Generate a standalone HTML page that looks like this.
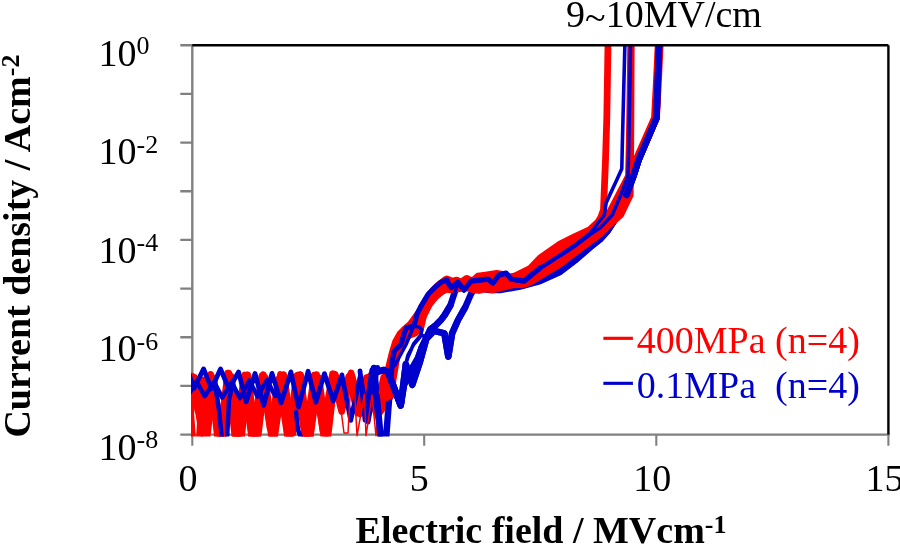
<!DOCTYPE html>
<html><head><meta charset="utf-8">
<style>
html,body{margin:0;padding:0;background:#fff;}
body{width:900px;height:544px;overflow:hidden;position:relative;}
svg{position:absolute;left:0;top:0;}
.t{font-family:"Liberation Serif","Noto Serif CJK SC",serif;}
</style></head><body>
<svg width="900" height="544" viewBox="0 0 900 544">

<g id="axes" stroke="#808080" stroke-width="2.4" fill="none">
<line x1="192.3" y1="44" x2="192.3" y2="435.8"/>
<line x1="191.1" y1="434.6" x2="889.6" y2="434.6"/>
<path d="M180.3 45.2H192.3M180.3 93.9H192.3M180.3 142.6H192.3M180.3 191.2H192.3M180.3 239.9H192.3M180.3 288.6H192.3M180.3 337.3H192.3M180.3 385.9H192.3M180.3 434.6H192.3"/>
<path d="M192.3 434.6V445.8M424.2 434.6V445.8M656.3 434.6V445.8M888.4 434.6V445.8" stroke-width="2.1"/>
</g>
<g id="curves"><clipPath id="pc"><rect x="191" y="44" width="698" height="392.4"/></clipPath>
<g clip-path="url(#pc)">
<polyline points="174.6,377.1 183.6,447.1 192.1,376.2 201.3,428.1 210.7,374.4 218.9,450.0 227.7,373.2 236.1,437.6 243.9,377.4 251.8,438.3 262.0,375.9 270.1,428.2 279.1,378.8 288.6,444.1 296.2,376.4 305.1,438.0 314.3,375.2 322.9,430.3 332.6,374.0 341.7,411.5 348.7,376.7 357.6,413.0 366.4,377.6 375.9,412.0 383.8,377.1 382.0,392.0" fill="none" stroke="#ff0000" stroke-width="6.8" stroke-linejoin="round" stroke-linecap="round"/>
<polyline points="177.2,373.8 185.0,437.7 194.5,377.8 202.3,429.6 212.0,377.1 221.5,448.3 228.0,375.5 236.1,446.2 245.0,375.0 253.4,448.6 263.3,374.7 271.6,432.2 280.5,374.5 288.8,433.3 297.7,375.2 306.6,444.3 316.0,378.4 324.6,442.2 332.0,378.0 340.1,401.1 350.4,375.1 358.7,400.4 368.3,377.4 377.3,414.6 386.0,398.0" fill="none" stroke="#ff0000" stroke-width="6.8" stroke-linejoin="round" stroke-linecap="round"/>
<polyline points="178.1,378.7 187.6,441.9 194.4,377.4 202.7,428.1 211.3,377.3 219.8,431.1 228.9,373.2 237.3,446.3 247.4,375.2 256.3,440.4 263.7,375.9 272.9,447.2 281.3,377.9 289.4,437.4 300.0,374.7 308.9,448.6 316.6,374.6 324.5,432.7 333.6,373.9 342.7,399.0 351.1,373.1 360.5,407.7 369.7,377.5 378.1,402.8 389.0,396.0" fill="none" stroke="#ff0000" stroke-width="6.8" stroke-linejoin="round" stroke-linecap="round"/>
<polyline points="178.9,378.0 187.0,434.0 196.3,379.0 205.6,448.9 214.0,378.9 222.0,449.4 231.1,376.0 240.8,444.6 247.8,374.8 256.5,448.5 265.2,377.5 273.5,444.4 283.6,374.6 292.8,433.5 300.6,374.9 308.7,447.0 318.7,377.6 327.5,439.7 335.2,374.4 343.3,402.5 351.9,376.4 360.4,413.7 370.3,375.6 379.6,412.6 392.0,394.0" fill="none" stroke="#ff0000" stroke-width="6.8" stroke-linejoin="round" stroke-linecap="round"/>
<polyline points="188.0,376.0 193.0,445.0 199.0,445.0 203.0,380.0" fill="none" stroke="#ff0000" stroke-width="6.8" stroke-linejoin="round" stroke-linecap="round"/>
<polyline points="179.0,382.4 187.1,397.1 196.6,381.5 204.7,396.1 214.2,382.3 222.3,397.6 231.8,382.4 239.9,398.2 249.4,380.4 257.5,396.6 267.0,380.0 275.1,395.9" fill="none" stroke="#0000cc" stroke-width="4.5" stroke-linejoin="round" stroke-linecap="round"/>
<polyline points="215.0,385.0 219.0,410.0 222.0,440.0 227.0,440.0 229.0,400.0 233.0,382.0" fill="none" stroke="#0000cc" stroke-width="4.5" stroke-linejoin="round" stroke-linecap="round"/>
<polyline points="296.0,412.0 298.0,430.0 302.0,440.0" fill="none" stroke="#0000cc" stroke-width="4.5" stroke-linejoin="round" stroke-linecap="round"/>
<polyline points="186.2,366.4 194.1,388.2 203.6,368.9 211.5,388.7 220.5,368.9 228.9,388.8 238.6,372.0 246.3,401.9 255.0,373.5 263.7,405.4 272.0,373.4 281.1,402.7 290.9,371.9 298.5,407.1 308.1,371.3 315.9,402.1 324.4,373.6 333.3,401.0 341.9,374.9 350.7,420.4 360.4,375.4 368.1,422.2 377.6,367.4" fill="none" stroke="#0000cc" stroke-width="4.8" stroke-linejoin="round" stroke-linecap="round"/>
<polyline points="360.0,371.0 365.0,420.0 371.8,370.0 380.6,440.0 386.0,440.0" fill="none" stroke="#0000cc" stroke-width="4.8" stroke-linejoin="round" stroke-linecap="round"/>
<polyline points="341.0,410.0 344.0,433.0 348.0,433.0 350.4,389.0 354.0,380.0 357.0,436.0 364.4,394.0 366.0,436.0 372.0,395.0 376.0,436.0 380.0,400.0" fill="none" stroke="#ff0000" stroke-width="1.5" stroke-linejoin="round" stroke-linecap="round"/>
<polyline points="374.0,368.0 381.0,440.0 386.0,440.0 389.0,400.0 392.0,362.0 395.0,352.0" fill="none" stroke="#0000cc" stroke-width="6.5" stroke-linejoin="round" stroke-linecap="round"/>
<polyline points="388.0,372.0 400.7,405.4 404.0,385.0 410.0,372.0 418.0,358.0 421.5,348.0 430.4,329.3 436.0,325.0 441.4,319.4 444.7,315.0 450.4,305.4 454.8,292.1 457.0,286.6 468.0,286.0 480.0,285.0 500.0,287.0 520.0,285.5 540.0,280.0 560.0,271.5 575.0,260.0 590.0,247.0 600.0,239.0 608.0,230.0 618.0,215.0 626.5,195.0 633.5,176.0 638.6,160.0 656.5,118.0 659.1,44.0" fill="none" stroke="#0000cc" stroke-width="6.5" stroke-linejoin="round" stroke-linecap="round"/>
<polyline points="376.0,372.0 384.0,370.0 388.0,372.0 400.7,405.4 405.8,364.3 412.3,384.8 420.0,361.7 426.4,338.6 434.1,330.8 444.4,333.4 448.3,356.6 452.1,333.4 458.0,320.0 465.0,307.7 471.0,294.0 475.0,288.0 490.0,290.0 500.0,290.0 520.0,286.5 540.0,281.0 560.0,272.0 575.0,260.5 590.0,247.5 600.0,239.5 608.0,230.5 618.0,215.0 626.5,195.0 633.5,176.0 638.6,160.0 656.5,118.0 659.1,44.0" fill="none" stroke="#0000cc" stroke-width="6.5" stroke-linejoin="round" stroke-linecap="round"/>
<polyline points="382.0,392.0 385.6,380.0 392.2,353.0 395.5,342.0 400.0,334.0 405.4,328.5 410.5,324.0 414.5,318.5 418.5,313.0 422.0,308.0 426.0,300.0 432.0,291.5 438.5,285.0 445.0,280.0 446.7,279.0 452.2,281.2 456.7,280.1 461.1,282.3 466.7,278.4 472.2,281.2 477.8,276.2 485.6,275.1 496.7,273.4 501.1,274.0 507.8,277.3 514.4,276.2 524.4,271.2 530.0,268.5 540.0,258.0 560.0,244.0 575.0,236.5 590.0,229.5 598.0,222.0 601.0,217.0 603.5,210.0 605.5,160.0 606.8,118.0 608.0,44.0" fill="none" stroke="#ff0000" stroke-width="6.8" stroke-linejoin="round" stroke-linecap="round"/>
<polyline points="386.0,398.0 388.5,380.0 394.0,355.0 397.5,344.0 402.5,337.0 408.0,332.0 413.5,327.0 417.5,319.0 422.0,310.0 428.0,301.0 435.0,293.0 442.0,287.5 448.0,285.0 448.0,284.5 455.0,285.0 462.0,286.0 469.0,283.0 476.0,282.0 485.0,280.5 495.0,279.0 503.0,280.0 511.0,281.0 520.0,278.0 530.0,273.0 540.0,263.0 560.0,249.5 575.0,241.0 590.0,232.5 600.0,226.0 608.2,215.0 618.6,195.0 628.5,176.0 628.9,160.0 629.7,118.0 630.8,44.0" fill="none" stroke="#ff0000" stroke-width="6.8" stroke-linejoin="round" stroke-linecap="round"/>
<polyline points="389.0,396.0 391.0,380.0 396.0,354.0 399.5,343.0 405.0,337.5 411.0,334.0 417.0,330.0 420.5,320.0 425.5,310.0 431.5,301.0 438.0,294.0 444.0,290.0 450.0,288.5 450.0,288.0 458.0,287.0 466.0,288.0 474.0,286.5 482.0,286.0 490.0,285.5 500.0,284.5 510.0,283.0 520.0,281.5 530.0,278.0 540.0,273.0 560.0,262.0 575.0,251.0 590.0,240.5 600.0,233.0 608.0,225.0 615.5,215.0 624.0,195.0 631.0,176.0 637.0,160.0 655.5,118.0 659.2,44.0" fill="none" stroke="#ff0000" stroke-width="6.8" stroke-linejoin="round" stroke-linecap="round"/>
<polyline points="392.0,394.0 393.0,380.0 397.6,353.0 402.0,342.0 408.6,335.5 415.2,333.0 420.7,328.0 423.6,316.0 429.0,305.0 435.7,296.5 441.2,292.0 447.0,289.0 450.0,289.9 457.8,288.8 466.7,287.7 474.4,289.9 478.9,290.5 485.6,288.8 492.2,289.9 501.1,287.7 510.0,285.5 516.7,284.4 522.2,284.9 530.0,282.2 540.0,276.0 560.0,264.0 575.0,252.5 590.0,241.5 600.0,234.0 608.0,226.0 620.6,215.0 630.2,195.0 630.4,176.0 630.6,160.0 630.9,118.0 631.2,44.0" fill="none" stroke="#ff0000" stroke-width="6.8" stroke-linejoin="round" stroke-linecap="round"/>
<polyline points="631.0,176.0 637.0,160.0 655.5,118.0 657.5,80.0 659.2,44.0" fill="none" stroke="#ff0000" stroke-width="8.8" stroke-linejoin="round" stroke-linecap="round"/>
<polyline points="626.5,195.0 633.5,176.0 638.6,160.0 656.5,118.0 659.1,44.0" fill="none" stroke="#0000cc" stroke-width="6.5" stroke-linejoin="round" stroke-linecap="round"/>
<polyline points="626.5,195.0 633.5,176.0 638.6,160.0 656.5,118.0 659.1,44.0" fill="none" stroke="#0000cc" stroke-width="6.5" stroke-linejoin="round" stroke-linecap="round"/>
<polyline points="388.0,372.0 400.7,405.4 404.0,385.0 410.0,372.0 418.0,358.0 421.5,348.0 430.4,329.3 436.0,325.0 441.4,319.4 444.7,315.0 450.4,305.4" fill="none" stroke="#0000cc" stroke-width="6.5" stroke-linejoin="round" stroke-linecap="round"/>
<polyline points="376.0,372.0 384.0,370.0 388.0,372.0 400.7,405.4 405.8,364.3 412.3,384.8 420.0,361.7 426.4,338.6 434.1,330.8 444.4,333.4 448.3,356.6 452.1,333.4 458.0,320.0 465.0,307.7" fill="none" stroke="#0000cc" stroke-width="6.5" stroke-linejoin="round" stroke-linecap="round"/>
<polyline points="391.0,380.0 392.1,362.0 394.3,351.0 401.0,344.3 404.3,333.2 406.5,327.7 412.0,326.6 414.3,325.1 417.0,314.1 421.5,305.3 428.1,294.3 434.7,287.6 441.3,282.1 446.8,279.9 449.0,284.3 451.2,287.6 458.0,282.0 464.0,290.0 471.0,281.0 488.0,279.0 493.0,283.0 499.0,275.0 506.0,273.0 511.0,279.0 524.0,281.0 540.0,268.0" fill="none" stroke="#0000cc" stroke-width="5.2" stroke-linejoin="round" stroke-linecap="round"/>
<polyline points="524.0,281.0 540.0,268.0 560.0,255.0 575.0,245.0 590.0,233.5 598.0,223.0 604.3,215.0 606.1,203.0 610.0,194.5 616.5,180.5 621.8,168.7 622.2,150.0 623.0,118.0 624.9,44.0" fill="none" stroke="#0000cc" stroke-width="3.6" stroke-linejoin="round" stroke-linecap="round"/>
<polyline points="388.0,372.0 395.0,365.0 402.0,352.0 405.8,345.0 410.0,335.0 413.6,326.0 419.0,327.0 422.0,330.0 420.0,337.0 414.0,344.0 408.0,355.0 405.8,364.0 408.0,357.0 413.6,344.0 421.0,335.0 426.0,337.0 430.4,329.3 436.0,325.0 441.4,319.4 444.7,315.0 450.4,305.4 454.8,292.1 457.0,286.6 458.0,283.0 464.0,291.0 471.0,282.0 488.0,280.0 493.0,284.0 499.0,276.0 506.0,274.0 511.0,280.0 524.0,282.0 540.0,268.5 560.0,256.0 575.0,246.0 590.0,234.5 600.0,228.0 612.2,215.0 620.7,195.0 628.0,176.0 628.4,160.0 629.3,118.0 630.5,44.0" fill="none" stroke="#0000cc" stroke-width="3.6" stroke-linejoin="round" stroke-linecap="round"/>
</g></g>
<g id="frame">
<line x1="192.3" y1="45.2" x2="888.4" y2="45.2" stroke="#000" stroke-width="2.4"/>
<line x1="888.4" y1="45.2" x2="888.4" y2="434.6" stroke="#000" stroke-width="2.4"/>
</g>

<g class="t" font-size="38" fill="#000">
<text x="98.6" y="66">10<tspan dy="-11.6" font-size="26">0</tspan></text>
<text x="98.5" y="164.4">10<tspan dy="-11.5" font-size="26">-2</tspan></text>
<text x="98.5" y="262.8">10<tspan dy="-11.5" font-size="26">-4</tspan></text>
<text x="98.5" y="361.1">10<tspan dy="-11.5" font-size="26">-6</tspan></text>
<text x="98.5" y="459.5">10<tspan dy="-11.5" font-size="26">-8</tspan></text>
<text x="188" y="491" text-anchor="middle">0</text>
<text x="419.2" y="491" text-anchor="middle">5</text>
<text x="652.3" y="491" text-anchor="middle">10</text>
<text x="884.4" y="491" text-anchor="middle">15</text>
<text x="566.1" y="27.4">9<tspan dy="3">~</tspan><tspan dy="-3">10MV/cm</tspan></text>
</g>
<g class="t" font-size="38" font-weight="bold" fill="#000">
<text x="355.6" y="543">Electric field / MVcm<tspan dy="-10.5" font-size="26">-1</tspan></text>
<text transform="translate(29.7,437.6) rotate(-90)">Current density / Acm<tspan dy="-10.5" font-size="26">-2</tspan></text>
</g>
<g class="t" font-size="38">
<text x="598.3" y="353" fill="#ff0000"><tspan font-family="'Noto Sans CJK JP',sans-serif" font-size="40" stroke="#ff0000" stroke-width="0.5">－</tspan><tspan dx="-1.5">400MPa (n=4)</tspan></text>
<text x="598.3" y="398.3" fill="#0000cc"><tspan font-family="'Noto Sans CJK JP',sans-serif" font-size="40" stroke="#0000cc" stroke-width="0.5">－</tspan><tspan dx="-1.5">0.1MPa&#160; (n=4)</tspan></text>
</g>
</svg>
</body></html>
